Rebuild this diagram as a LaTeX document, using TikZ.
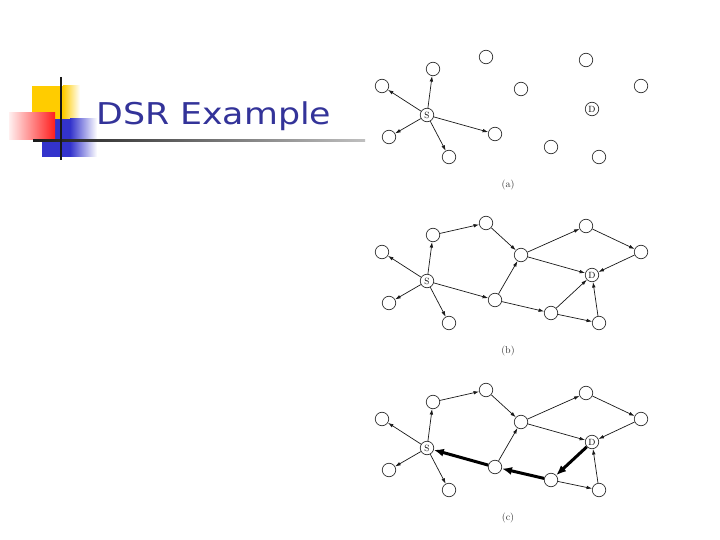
\documentclass[tikz,border=0pt]{standalone}
\usepackage{fontspec}
\newfontfamily\titlefont{DejaVu Sans}
\usetikzlibrary{arrows.meta}
\definecolor{titleblue}{RGB}{51,51,153}
\definecolor{logoyellow}{RGB}{255,204,0}
\definecolor{logoblue}{RGB}{51,51,204}
\definecolor{logored}{RGB}{255,30,30}
\newcommand\placenodes{%
  \node[nd] (S)  at (427,115) {S};
  \node[nd] (t)  at (433,69)  {};
  \node[nd] (ul) at (382,86)  {};
  \node[nd] (ll) at (389,137) {};
  \node[nd] (lo) at (449,157) {};
  \node[nd] (m)  at (495,134) {};
  \node[nd] (tm) at (486,57)  {};
  \node[nd] (c)  at (521,89)  {};
  \node[nd] (tr) at (586,60)  {};
  \node[nd] (fr) at (641,86)  {};
  \node[nd] (D)  at (592,109) {D};
  \node[nd] (p)  at (551,147) {};
  \node[nd] (q)  at (599,157) {};
}
\newcommand\commonedges{%
  \draw[ar] (S) -- (t);
  \draw[ar] (S) -- (ul);
  \draw[ar] (S) -- (ll);
  \draw[ar] (S) -- (lo);
}
\newcommand\floodedges{%
  \draw[ar] (t) -- (tm);
  \draw[ar] (tm) -- (c);
  \draw[ar] (m) -- (c);
  \draw[ar] (c) -- (tr);
  \draw[ar] (c) -- (D);
  \draw[ar] (tr) -- (fr);
  \draw[ar] (fr) -- (D);
  \draw[ar] (p) -- (q);
  \draw[ar] (q) -- (D);
}
\begin{document}
\begin{tikzpicture}[x=1pt,y=-1pt,
  nd/.style={circle,draw=black!80,line width=0.7pt,fill=white,minimum size=13.5pt,inner sep=0pt,font=\fontsize{9}{9}\selectfont},
  ar/.style={draw=black!90,line width=0.7pt,-{Latex[length=5.5pt,width=3.6pt]}},
  bigarrow/.style={draw=black,line width=3pt,-{Latex[length=10pt,width=8pt]}},
  lab/.style={font=\fontsize{10}{10}\selectfont,text=black!80}]
\fill[white] (0,0) rectangle (720,540);
\useasboundingbox (0,0) rectangle (720,540);
% logo
\fill[logoyellow] (32,86) rectangle (63,119);
\shade[left color=logoyellow,right color=white] (63,86) rectangle (80,119);
\fill[logoblue] (42,119) rectangle (70,157);
\shade[left color=logoblue,right color=white] (70,119) rectangle (97,157);
\shade[left color=red!6!white,right color=logored] (9,113) rectangle (55,140);
\shade[left color=black!90,right color=black!25] (33,140) rectangle (365,142);
\draw[line width=2pt,black!90] (61,77) -- (61,160);
% title
\node[anchor=base west,inner sep=0pt,text=titleblue,font=\titlefont\fontsize{30}{36}\selectfont,xscale=1.16] (title) at (96,125) {DSR Example};
% (a)
\begin{scope}[name prefix=a-]
  \placenodes
  \commonedges
  \draw[ar] (S) -- (m);
  \node[lab] (lab) at (508,185) {(a)};
\end{scope}
% (b)
\begin{scope}[name prefix=b-,shift={(0,166)}]
  \placenodes
  \commonedges
  \draw[ar] (S) -- (m);
  \floodedges
  \draw[ar] (m) -- (p);
  \draw[ar] (p) -- (D);
  \node[lab] (lab) at (508,185) {(b)};
\end{scope}
% (c)
\begin{scope}[name prefix=c-,shift={(0,333)}]
  \placenodes
  \commonedges
  \floodedges
  \draw[bigarrow] (D) -- (p);
  \draw[bigarrow] (p) -- (m);
  \draw[bigarrow] (m) -- (S);
  \node[lab] (lab) at (508,185) {(c)};
\end{scope}
\end{tikzpicture}
\end{document}
